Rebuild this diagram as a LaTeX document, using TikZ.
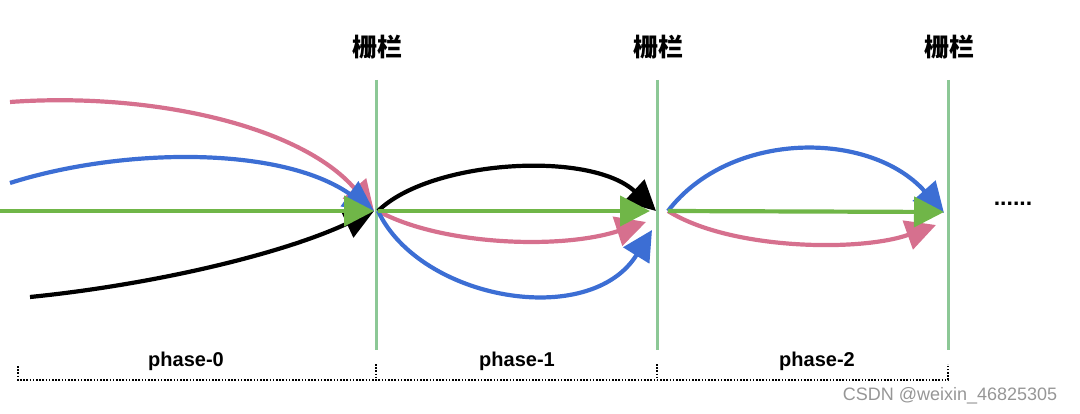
\documentclass[tikz,border=0pt]{standalone}
\usepackage{fontspec}
\setmainfont{Liberation Sans}
\newfontfamily\cjk{Noto Sans CJK SC}
\usetikzlibrary{arrows.meta}
\definecolor{barrier}{RGB}{140,200,150}
\definecolor{pk}{RGB}{214,112,142}
\definecolor{bl}{RGB}{60,110,212}
\definecolor{gr}{RGB}{112,182,72}
\definecolor{wm}{RGB}{150,150,150}
\tikzset{
  flow/.style={line width=4.2pt, -{Triangle[length=30pt,width=30pt]}},
  barrierline/.style={draw=barrier, line width=3pt},
  barriertext/.style={font=\cjk\bfseries\fontsize{25}{25}\selectfont, text=black},
  phasetext/.style={font=\bfseries\fontsize{20}{20}\selectfont},
  bracket/.style={dash pattern=on 1.6pt off 1.6pt, line width=2pt},
}
\begin{document}
\begin{tikzpicture}[x=1pt,y=-1pt]
\path[use as bounding box] (0,0) rectangle (1080,414);
% barriers
\coordinate (b0t) at (376,80); \coordinate (b0b) at (376,350);
\coordinate (b1t) at (657,80); \coordinate (b1b) at (657,350);
\coordinate (b2t) at (948,80); \coordinate (b2b) at (948,350);
\draw[barrierline] (b0t) -- (b0b);
\draw[barrierline] (b1t) -- (b1b);
\draw[barrierline] (b2t) -- (b2b);
\node[barriertext] (l0) at (377,47) {栅栏};
\node[barriertext] (l1) at (658,47) {栅栏};
\node[barriertext] (l2) at (949,47) {栅栏};
% phase 0
\coordinate (p0pk) at (10,102);
\coordinate (p0bl) at (10,183);
\coordinate (p0gr) at (0,211);
\coordinate (p0bk) at (30,297);
\coordinate (e0) at (374,211);
\draw[flow, pk] (p0pk) .. controls (150,92) and (300,125) .. (e0);
\draw[flow, bl] (p0bl) .. controls (120,148) and (280,145) .. (e0);
\draw[flow, black] (p0bk) .. controls (150,285) and (280,255) .. (e0);
\draw[flow, gr] (p0gr) -- (e0);
% phase 1
\coordinate (s1) at (378,211);
\coordinate (e1bk) at (656,211);
\coordinate (e1gr) at (650,211);
\coordinate (e1pk) at (646,222);
\coordinate (e1bl) at (652,230);
\draw[flow, black] (s1) .. controls (430,160) and (590,150) .. (e1bk);
\draw[flow, pk] (s1) .. controls (440,245) and (560,250) .. (e1pk);
\draw[flow, bl] (s1) .. controls (420,300) and (590,330) .. (e1bl);
\draw[flow, gr] (s1) -- (e1gr);
% phase 2
\coordinate (s2) at (668,211);
\coordinate (e2bl) at (944,213);
\coordinate (e2gr) at (944,212);
\coordinate (e2pk) at (936,225);
\draw[flow, bl] (s2) .. controls (730,130) and (870,130) .. (e2bl);
\draw[flow, pk] (s2) .. controls (730,250) and (860,252) .. (e2pk);
\draw[flow, gr] (s2) -- (e2gr);
\node[font=\bfseries\fontsize{23}{23}\selectfont] (dots) at (1013,204) {......};
% phase labels
\node[phasetext] (ph0) at (186,361) {phase-0};
\node[phasetext] (ph1) at (517,361) {phase-1};
\node[phasetext] (ph2) at (817,361) {phase-2};
% bracket
\coordinate (k0) at (18,366); \coordinate (k0b) at (18,380);
\coordinate (k1) at (376,364); \coordinate (k1b) at (376,380);
\coordinate (k2) at (657,364); \coordinate (k2b) at (657,380);
\coordinate (k3) at (948,364); \coordinate (k3b) at (948,380);
\draw[bracket] (k0) -- (k0b) -- (k3b) -- (k3);
\draw[bracket] (k1) -- (k1b);
\draw[bracket] (k2) -- (k2b);
% watermark
\node[text=wm, font=\fontsize{18}{18}\selectfont] (wmk) at (950,396) {CSDN @weixin\_46825305};
\end{tikzpicture}
\end{document}
